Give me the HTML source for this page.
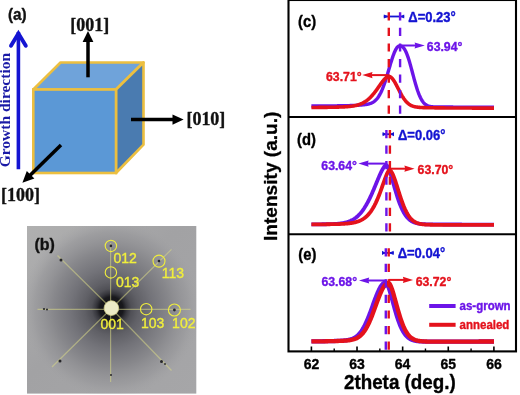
<!DOCTYPE html><html><head><meta charset="utf-8"><style>html,body{margin:0;padding:0;background:#fff;overflow:hidden}svg{display:block;filter:blur(0.3px)}</style></head><body><svg width="520" height="395" viewBox="0 0 520 395"><rect width="520" height="395" fill="#fff"/><text transform="translate(7.90,19.69) scale(1,1.07)" style="font-family:'Liberation Sans',Arial,sans-serif;font-weight:bold;font-size:15.3px" fill="#111" stroke="#111" stroke-width="0.35" stroke-linejoin="round">(a)</text><polygon points="33.3,89.5 60.5,62.5 143.5,62.5 116,89.5" fill="#6fa3da" stroke="#ecbf40" stroke-width="2.6" stroke-linejoin="round"/><polygon points="116,89.5 143.5,62.5 143.5,144.7 116,173" fill="#4a7bb0" stroke="#ecbf40" stroke-width="2.6" stroke-linejoin="round"/><rect x="33.3" y="89.5" width="82.7" height="83.5" fill="#5b98d6" stroke="#ecbf40" stroke-width="2.6"/><line x1="88" y1="77.3" x2="88" y2="40" stroke="#000" stroke-width="3.5"/><polygon points="88,30.9 82.6,42 93.4,42" fill="#000"/><line x1="131" y1="119.6" x2="174" y2="119.6" stroke="#000" stroke-width="3.5"/><polygon points="183.6,119.6 172.5,114.4 172.5,124.8" fill="#000"/><line x1="61" y1="144.9" x2="29.89" y2="175.44" stroke="#000" stroke-width="3.5"/><polygon points="22.4,182.8 26.82,170.89 34.39,178.60" fill="#000"/><text transform="translate(70.20,31.09) scale(1,1.07)" style="font-family:'Liberation Serif','Times New Roman',serif;font-weight:bold;font-size:18px" fill="#111" stroke="#111" stroke-width="0.35" stroke-linejoin="round">[001]</text><text transform="translate(186.40,125.49) scale(1,1.07)" style="font-family:'Liberation Serif','Times New Roman',serif;font-weight:bold;font-size:18px" fill="#111" stroke="#111" stroke-width="0.35" stroke-linejoin="round">[010]</text><text transform="translate(1.00,200.59) scale(1,1.07)" style="font-family:'Liberation Serif','Times New Roman',serif;font-weight:bold;font-size:18px" fill="#111" stroke="#111" stroke-width="0.35" stroke-linejoin="round">[100]</text><line x1="18.4" y1="169.2" x2="18.4" y2="32" stroke="#1414d2" stroke-width="3.6"/><polyline points="11,45.8 18.4,33.6 25.8,45.8" fill="none" stroke="#1414d2" stroke-width="3.9" stroke-linecap="round" stroke-linejoin="miter"/><g transform="translate(10.2,167.3) rotate(-90)"><text x="0" y="0" style="font-family:'Liberation Serif','Times New Roman',serif;font-weight:bold;font-size:15.5px" fill="#1a1aa6">Growth direction</text></g><defs><radialGradient id="halo" cx="111.4" cy="308.5" r="90" gradientUnits="userSpaceOnUse"><stop offset="0" stop-color="#0e0e12"/><stop offset="0.13" stop-color="#18181c"/><stop offset="0.17" stop-color="#36363c"/><stop offset="0.22" stop-color="#505056"/><stop offset="0.3" stop-color="#606066"/><stop offset="0.45" stop-color="#737379"/><stop offset="0.65" stop-color="#88888c"/><stop offset="0.85" stop-color="#98989b" stop-opacity="0.7"/><stop offset="1" stop-color="#a4a4a6" stop-opacity="0"/></radialGradient><linearGradient id="bgg" x1="0" y1="0" x2="1" y2="1"><stop offset="0" stop-color="#b0b0b0"/><stop offset="0.45" stop-color="#a2a2a4"/><stop offset="1" stop-color="#a6a6a8"/></linearGradient></defs><rect x="27" y="226" width="169.3" height="167.6" fill="url(#bgg)"/><rect x="27" y="226" width="169.3" height="167.6" fill="url(#halo)"/><line x1="37.5" y1="309.4" x2="190.6" y2="309.4" stroke="#d8d888" stroke-width="1.2" opacity="0.55"/><line x1="110.6" y1="243" x2="110.6" y2="382" stroke="#d8d888" stroke-width="1.2" opacity="0.55"/><line x1="111.4" y1="308.5" x2="57.5" y2="255.5" stroke="#d8d888" stroke-width="1.2" opacity="0.55"/><line x1="111.4" y1="308.5" x2="171.5" y2="249.4" stroke="#d8d888" stroke-width="1.2" opacity="0.55"/><line x1="111.4" y1="308.5" x2="52" y2="367" stroke="#d8d888" stroke-width="1.2" opacity="0.55"/><line x1="111.4" y1="308.5" x2="171.5" y2="370.5" stroke="#d8d888" stroke-width="1.2" opacity="0.55"/><circle cx="61" cy="260" r="1.5" fill="#26262a"/><circle cx="44" cy="309" r="1.1" fill="#26262a"/><circle cx="47" cy="309.5" r="1.0" fill="#26262a"/><circle cx="60" cy="361" r="1.5" fill="#26262a"/><circle cx="161.5" cy="361.5" r="1.5" fill="#26262a"/><circle cx="165" cy="364" r="0.9" fill="#26262a"/><circle cx="111" cy="375" r="1.0" fill="#26262a"/><circle cx="110.9" cy="245.9" r="1.3" fill="#26262a"/><circle cx="159" cy="261.1" r="1.3" fill="#26262a"/><circle cx="174.4" cy="310" r="1.4" fill="#26262a"/><circle cx="111.4" cy="308.1" r="7.3" fill="#ecebc6" stroke="#d8d690" stroke-width="0.8"/><circle cx="110.9" cy="245.9" r="5.7" fill="none" stroke="#f0ee3c" stroke-width="1.1"/><circle cx="110.9" cy="272.4" r="5.7" fill="none" stroke="#f0ee3c" stroke-width="1.1"/><circle cx="159" cy="261.1" r="6" fill="none" stroke="#f0ee3c" stroke-width="1.1"/><circle cx="146.2" cy="309.2" r="5.7" fill="none" stroke="#f0ee3c" stroke-width="1.1"/><circle cx="174.4" cy="310" r="6" fill="none" stroke="#f0ee3c" stroke-width="1.1"/><text transform="translate(113.40,262.89) scale(1,1.07)" style="font-family:'Liberation Sans',Arial,sans-serif;font-size:14px" fill="#f0ee3c" stroke="#f0ee3c" stroke-width="0.35">012</text><text transform="translate(116.00,287.09) scale(1,1.07)" style="font-family:'Liberation Sans',Arial,sans-serif;font-size:14px" fill="#f0ee3c" stroke="#f0ee3c" stroke-width="0.35">013</text><text transform="translate(161.80,278.49) scale(1,1.07)" style="font-family:'Liberation Sans',Arial,sans-serif;font-size:14px" fill="#f0ee3c" stroke="#f0ee3c" stroke-width="0.35">113</text><text transform="translate(141.00,328.49) scale(1,1.07)" style="font-family:'Liberation Sans',Arial,sans-serif;font-size:14px" fill="#f0ee3c" stroke="#f0ee3c" stroke-width="0.35">103</text><text transform="translate(172.10,328.49) scale(1,1.07)" style="font-family:'Liberation Sans',Arial,sans-serif;font-size:14px" fill="#f0ee3c" stroke="#f0ee3c" stroke-width="0.35">102</text><text transform="translate(100.50,328.69) scale(1,1.07)" style="font-family:'Liberation Sans',Arial,sans-serif;font-size:14px" fill="#f0ee3c" stroke="#f0ee3c" stroke-width="0.35">001</text><text transform="translate(34.40,249.73) scale(1,1.07)" style="font-family:'Liberation Sans',Arial,sans-serif;font-weight:bold;font-size:16px" fill="#111" stroke="#111" stroke-width="0.35" stroke-linejoin="round">(b)</text><rect x="288.5" y="0" width="227.5" height="351.4" fill="#fff" stroke="#000" stroke-width="2.1"/><line x1="288.5" y1="117" x2="516" y2="117" stroke="#000" stroke-width="2.1"/><line x1="288.5" y1="234.2" x2="516" y2="234.2" stroke="#000" stroke-width="2.1"/><line x1="311.40" y1="351" x2="311.40" y2="346.5" stroke="#000" stroke-width="1.6"/><line x1="334.21" y1="351" x2="334.21" y2="348.5" stroke="#000" stroke-width="1.4"/><text transform="translate(303.63,369.09) scale(1,1.07)" style="font-family:'Liberation Sans',Arial,sans-serif;font-weight:bold;font-size:14px" fill="#000" stroke="#000" stroke-width="0.35" stroke-linejoin="round">62</text><line x1="357.02" y1="351" x2="357.02" y2="346.5" stroke="#000" stroke-width="1.6"/><line x1="379.84" y1="351" x2="379.84" y2="348.5" stroke="#000" stroke-width="1.4"/><text transform="translate(349.25,369.09) scale(1,1.07)" style="font-family:'Liberation Sans',Arial,sans-serif;font-weight:bold;font-size:14px" fill="#000" stroke="#000" stroke-width="0.35" stroke-linejoin="round">63</text><line x1="402.65" y1="351" x2="402.65" y2="346.5" stroke="#000" stroke-width="1.6"/><line x1="425.46" y1="351" x2="425.46" y2="348.5" stroke="#000" stroke-width="1.4"/><text transform="translate(394.81,369.09) scale(1,1.07)" style="font-family:'Liberation Sans',Arial,sans-serif;font-weight:bold;font-size:14px" fill="#000" stroke="#000" stroke-width="0.35" stroke-linejoin="round">64</text><line x1="448.27" y1="351" x2="448.27" y2="346.5" stroke="#000" stroke-width="1.6"/><line x1="471.09" y1="351" x2="471.09" y2="348.5" stroke="#000" stroke-width="1.4"/><text transform="translate(440.50,369.09) scale(1,1.07)" style="font-family:'Liberation Sans',Arial,sans-serif;font-weight:bold;font-size:14px" fill="#000" stroke="#000" stroke-width="0.35" stroke-linejoin="round">65</text><line x1="493.90" y1="351" x2="493.90" y2="346.5" stroke="#000" stroke-width="1.6"/><text transform="translate(486.13,369.09) scale(1,1.07)" style="font-family:'Liberation Sans',Arial,sans-serif;font-weight:bold;font-size:14px" fill="#000" stroke="#000" stroke-width="0.35" stroke-linejoin="round">66</text><text transform="translate(344.00,389.28) scale(1,1.07)" style="font-family:'Liberation Sans',Arial,sans-serif;font-weight:bold;font-size:18.8px" fill="#000" stroke="#000" stroke-width="0.35" stroke-linejoin="round">2theta (deg.)</text><g transform="translate(276.9,241.0) rotate(-90)"><text x="0" y="0" style="font-family:'Liberation Sans',Arial,sans-serif;font-weight:bold;font-size:19.1px" fill="#000" stroke="#000" stroke-width="0.3">Intensity (a.u.)</text></g><text transform="translate(298.00,27.40) scale(1,1.07)" style="font-family:'Liberation Sans',Arial,sans-serif;font-weight:bold;font-size:14.8px" fill="#000" stroke="#000" stroke-width="0.35" stroke-linejoin="round">(c)</text><text transform="translate(297.00,144.60) scale(1,1.07)" style="font-family:'Liberation Sans',Arial,sans-serif;font-weight:bold;font-size:14.8px" fill="#000" stroke="#000" stroke-width="0.35" stroke-linejoin="round">(d)</text><text transform="translate(298.30,260.00) scale(1,1.07)" style="font-family:'Liberation Sans',Arial,sans-serif;font-weight:bold;font-size:14.8px" fill="#000" stroke="#000" stroke-width="0.35" stroke-linejoin="round">(e)</text><path d="M311.40,105.99 L311.86,105.98 L312.31,105.98 L312.77,105.98 L313.23,105.98 L313.68,105.98 L314.14,105.98 L314.60,105.98 L315.05,105.98 L315.51,105.98 L315.96,105.98 L316.42,105.97 L316.88,105.97 L317.33,105.97 L317.79,105.97 L318.25,105.97 L318.70,105.97 L319.16,105.97 L319.62,105.96 L320.07,105.96 L320.53,105.96 L320.99,105.96 L321.44,105.96 L321.90,105.95 L322.36,105.95 L322.81,105.95 L323.27,105.95 L323.73,105.95 L324.18,105.94 L324.64,105.94 L325.09,105.94 L325.55,105.94 L326.01,105.93 L326.46,105.93 L326.92,105.93 L327.38,105.92 L327.83,105.92 L328.29,105.92 L328.75,105.91 L329.20,105.91 L329.66,105.91 L330.12,105.90 L330.57,105.90 L331.03,105.89 L331.49,105.89 L331.94,105.89 L332.40,105.88 L332.86,105.88 L333.31,105.87 L333.77,105.87 L334.22,105.86 L334.68,105.86 L335.14,105.85 L335.59,105.85 L336.05,105.84 L336.51,105.84 L336.96,105.83 L337.42,105.82 L337.88,105.82 L338.33,105.81 L338.79,105.80 L339.25,105.80 L339.70,105.79 L340.16,105.78 L340.62,105.77 L341.07,105.77 L341.53,105.76 L341.99,105.75 L342.44,105.74 L342.90,105.73 L343.35,105.72 L343.81,105.72 L344.27,105.71 L344.72,105.70 L345.18,105.69 L345.64,105.68 L346.09,105.67 L346.55,105.65 L347.01,105.64 L347.46,105.63 L347.92,105.62 L348.38,105.61 L348.83,105.59 L349.29,105.58 L349.75,105.57 L350.20,105.55 L350.66,105.54 L351.12,105.52 L351.57,105.51 L352.03,105.49 L352.49,105.48 L352.94,105.46 L353.40,105.44 L353.85,105.43 L354.31,105.41 L354.77,105.39 L355.22,105.37 L355.68,105.35 L356.14,105.33 L356.59,105.31 L357.05,105.28 L357.51,105.26 L357.96,105.23 L358.42,105.21 L358.88,105.18 L359.33,105.15 L359.79,105.13 L360.25,105.09 L360.70,105.06 L361.16,105.03 L361.62,104.99 L362.07,104.96 L362.53,104.92 L362.98,104.87 L363.44,104.83 L363.90,104.78 L364.35,104.73 L364.81,104.67 L365.27,104.61 L365.72,104.55 L366.18,104.48 L366.64,104.40 L367.09,104.32 L367.55,104.23 L368.01,104.13 L368.46,104.03 L368.92,103.91 L369.38,103.78 L369.83,103.64 L370.29,103.49 L370.75,103.32 L371.20,103.14 L371.66,102.94 L372.11,102.72 L372.57,102.49 L373.03,102.22 L373.48,101.94 L373.94,101.63 L374.40,101.29 L374.85,100.93 L375.31,100.53 L375.77,100.10 L376.22,99.63 L376.68,99.13 L377.14,98.59 L377.59,98.01 L378.05,97.38 L378.51,96.72 L378.96,96.00 L379.42,95.24 L379.88,94.44 L380.33,93.58 L380.79,92.67 L381.24,91.72 L381.70,90.71 L382.16,89.66 L382.61,88.55 L383.07,87.40 L383.53,86.20 L383.98,84.95 L384.44,83.66 L384.90,82.33 L385.35,80.96 L385.81,79.55 L386.27,78.11 L386.72,76.63 L387.18,75.14 L387.64,73.62 L388.09,72.09 L388.55,70.54 L389.00,69.00 L389.46,67.45 L389.92,65.90 L390.37,64.37 L390.83,62.86 L391.29,61.38 L391.74,59.92 L392.20,58.50 L392.66,57.13 L393.11,55.81 L393.57,54.55 L394.03,53.36 L394.48,52.23 L394.94,51.19 L395.40,50.22 L395.85,49.35 L396.31,48.57 L396.77,47.88 L397.22,47.30 L397.68,46.82 L398.13,46.45 L398.59,46.18 L399.05,46.02 L399.50,45.95 L399.65,45.95 L399.96,45.95 L400.42,45.99 L400.87,46.06 L401.33,46.20 L401.79,46.39 L402.24,46.66 L402.70,47.00 L403.16,47.42 L403.61,47.92 L404.07,48.51 L404.53,49.18 L404.98,49.94 L405.44,50.79 L405.90,51.73 L406.35,52.75 L406.81,53.86 L407.26,55.05 L407.72,56.31 L408.18,57.65 L408.63,59.06 L409.09,60.53 L409.55,62.05 L410.00,63.62 L410.46,65.24 L410.92,66.89 L411.37,68.58 L411.83,70.28 L412.29,71.99 L412.74,73.71 L413.20,75.43 L413.66,77.14 L414.11,78.83 L414.57,80.49 L415.03,82.13 L415.48,83.73 L415.94,85.29 L416.39,86.80 L416.85,88.26 L417.31,89.67 L417.76,91.02 L418.22,92.30 L418.68,93.53 L419.13,94.69 L419.59,95.78 L420.05,96.81 L420.50,97.77 L420.96,98.67 L421.42,99.50 L421.87,100.28 L422.33,100.99 L422.79,101.64 L423.24,102.24 L423.70,102.78 L424.16,103.28 L424.61,103.72 L425.07,104.13 L425.52,104.49 L425.98,104.81 L426.44,105.10 L426.89,105.35 L427.35,105.58 L427.81,105.77 L428.26,105.95 L428.72,106.10 L429.18,106.23 L429.63,106.34 L430.09,106.44 L430.55,106.53 L431.00,106.60 L431.46,106.66 L431.92,106.72 L432.37,106.76 L432.83,106.80 L433.29,106.83 L433.74,106.86 L434.20,106.88 L434.65,106.90 L435.11,106.92 L435.57,106.93 L436.02,106.95 L436.48,106.96 L436.94,106.96 L437.39,106.97 L437.85,106.98 L438.31,106.98 L438.76,106.99 L439.22,106.99 L439.68,107.00 L440.13,107.00 L440.59,107.00 L441.05,107.01 L441.50,107.01 L441.96,107.01 L442.42,107.02 L442.87,107.02 L443.33,107.02 L443.78,107.02 L444.24,107.03 L444.70,107.03 L445.15,107.03 L445.61,107.03 L446.07,107.04 L446.52,107.04 L446.98,107.04 L447.44,107.04 L447.89,107.05 L448.35,107.05 L448.81,107.05 L449.26,107.05 L449.72,107.06 L450.18,107.06 L450.63,107.06 L451.09,107.06 L451.55,107.07 L452.00,107.07 L452.46,107.07 L452.91,107.07 L453.37,107.08 L453.83,107.08 L454.28,107.08 L454.74,107.08 L455.20,107.09 L455.65,107.09 L456.11,107.09 L456.57,107.09 L457.02,107.10 L457.48,107.10 L457.94,107.10 L458.39,107.10 L458.85,107.11 L459.31,107.11 L459.76,107.11 L460.22,107.11 L460.68,107.12 L461.13,107.12 L461.59,107.12 L462.04,107.12 L462.50,107.13 L462.96,107.13 L463.41,107.13 L463.87,107.13 L464.33,107.14 L464.78,107.14 L465.24,107.14 L465.70,107.14 L466.15,107.15 L466.61,107.15 L467.07,107.15 L467.52,107.15 L467.98,107.16 L468.44,107.16 L468.89,107.16 L469.35,107.16 L469.81,107.17 L470.26,107.17 L470.72,107.17 L471.17,107.17 L471.63,107.18 L472.09,107.18 L472.54,107.18 L473.00,107.19 L473.46,107.19 L473.91,107.19 L474.37,107.19 L474.83,107.19 L475.28,107.20 L475.74,107.20 L476.20,107.20 L476.65,107.20 L477.11,107.21 L477.57,107.21 L478.02,107.21 L478.48,107.22 L478.94,107.22 L479.39,107.22 L479.85,107.22 L480.31,107.22 L480.76,107.23 L481.22,107.23 L481.67,107.23 L482.13,107.23 L482.59,107.24 L483.04,107.24 L483.50,107.24 L483.96,107.24 L484.41,107.25 L484.87,107.25 L485.33,107.25 L485.78,107.25 L486.24,107.26 L486.70,107.26 L487.15,107.26 L487.61,107.27 L488.07,107.27 L488.52,107.27 L488.98,107.27 L489.44,107.27 L489.89,107.28 L490.35,107.28 L490.80,107.28 L491.26,107.28 L491.72,107.29 L492.17,107.29 L492.63,107.29 L493.09,107.30 L493.54,107.30 L494.00,107.30" fill="none" stroke="#6c14e8" stroke-width="3.4" stroke-linejoin="round"/><path d="M311.40,107.47 L311.86,107.47 L312.31,107.47 L312.77,107.47 L313.23,107.46 L313.68,107.46 L314.14,107.46 L314.60,107.45 L315.05,107.45 L315.51,107.45 L315.96,107.44 L316.42,107.44 L316.88,107.44 L317.33,107.43 L317.79,107.43 L318.25,107.42 L318.70,107.42 L319.16,107.42 L319.62,107.41 L320.07,107.41 L320.53,107.40 L320.99,107.40 L321.44,107.40 L321.90,107.39 L322.36,107.39 L322.81,107.38 L323.27,107.38 L323.73,107.37 L324.18,107.37 L324.64,107.36 L325.09,107.36 L325.55,107.35 L326.01,107.34 L326.46,107.34 L326.92,107.33 L327.38,107.33 L327.83,107.32 L328.29,107.31 L328.75,107.31 L329.20,107.30 L329.66,107.29 L330.12,107.28 L330.57,107.28 L331.03,107.27 L331.49,107.26 L331.94,107.25 L332.40,107.24 L332.86,107.24 L333.31,107.23 L333.77,107.22 L334.22,107.21 L334.68,107.20 L335.14,107.19 L335.59,107.18 L336.05,107.16 L336.51,107.15 L336.96,107.14 L337.42,107.13 L337.88,107.12 L338.33,107.10 L338.79,107.09 L339.25,107.07 L339.70,107.06 L340.16,107.04 L340.62,107.03 L341.07,107.01 L341.53,106.99 L341.99,106.97 L342.44,106.95 L342.90,106.93 L343.35,106.91 L343.81,106.88 L344.27,106.86 L344.72,106.83 L345.18,106.81 L345.64,106.78 L346.09,106.75 L346.55,106.72 L347.01,106.68 L347.46,106.65 L347.92,106.61 L348.38,106.57 L348.83,106.53 L349.29,106.48 L349.75,106.44 L350.20,106.39 L350.66,106.33 L351.12,106.28 L351.57,106.22 L352.03,106.16 L352.49,106.09 L352.94,106.02 L353.40,105.94 L353.85,105.86 L354.31,105.78 L354.77,105.69 L355.22,105.60 L355.68,105.50 L356.14,105.39 L356.59,105.28 L357.05,105.16 L357.51,105.04 L357.96,104.91 L358.42,104.77 L358.88,104.62 L359.33,104.47 L359.79,104.31 L360.25,104.13 L360.70,103.95 L361.16,103.76 L361.62,103.56 L362.07,103.35 L362.53,103.13 L362.98,102.90 L363.44,102.65 L363.90,102.40 L364.35,102.13 L364.81,101.85 L365.27,101.56 L365.72,101.26 L366.18,100.94 L366.64,100.61 L367.09,100.26 L367.55,99.90 L368.01,99.53 L368.46,99.14 L368.92,98.73 L369.38,98.32 L369.83,97.88 L370.29,97.44 L370.75,96.97 L371.20,96.50 L371.66,96.00 L372.11,95.50 L372.57,94.98 L373.03,94.44 L373.48,93.90 L373.94,93.33 L374.40,92.76 L374.85,92.17 L375.31,91.58 L375.77,90.97 L376.22,90.35 L376.68,89.72 L377.14,89.09 L377.59,88.45 L378.05,87.80 L378.51,87.15 L378.96,86.49 L379.42,85.84 L379.88,85.19 L380.33,84.54 L380.79,83.90 L381.24,83.26 L381.70,82.64 L382.16,82.03 L382.61,81.43 L383.07,80.85 L383.53,80.30 L383.98,79.77 L384.44,79.26 L384.90,78.79 L385.35,78.36 L385.81,77.96 L386.27,77.60 L386.72,77.29 L387.18,77.03 L387.64,76.81 L388.09,76.66 L388.55,76.56 L388.93,76.53 L389.00,76.53 L389.46,76.58 L389.92,76.71 L390.37,76.91 L390.83,77.19 L391.29,77.54 L391.74,77.96 L392.20,78.44 L392.66,78.98 L393.11,79.58 L393.57,80.23 L394.03,80.93 L394.48,81.67 L394.94,82.45 L395.40,83.25 L395.85,84.09 L396.31,84.95 L396.77,85.82 L397.22,86.71 L397.68,87.60 L398.13,88.50 L398.59,89.39 L399.05,90.28 L399.50,91.17 L399.96,92.04 L400.42,92.90 L400.87,93.73 L401.33,94.55 L401.79,95.35 L402.24,96.12 L402.70,96.86 L403.16,97.58 L403.61,98.27 L404.07,98.93 L404.53,99.56 L404.98,100.15 L405.44,100.72 L405.90,101.26 L406.35,101.76 L406.81,102.24 L407.26,102.69 L407.72,103.10 L408.18,103.49 L408.63,103.86 L409.09,104.20 L409.55,104.51 L410.00,104.80 L410.46,105.06 L410.92,105.31 L411.37,105.53 L411.83,105.74 L412.29,105.93 L412.74,106.10 L413.20,106.26 L413.66,106.40 L414.11,106.53 L414.57,106.65 L415.03,106.75 L415.48,106.85 L415.94,106.94 L416.39,107.02 L416.85,107.09 L417.31,107.15 L417.76,107.21 L418.22,107.26 L418.68,107.31 L419.13,107.35 L419.59,107.39 L420.05,107.42 L420.50,107.46 L420.96,107.48 L421.42,107.51 L421.87,107.53 L422.33,107.56 L422.79,107.58 L423.24,107.59 L423.70,107.61 L424.16,107.63 L424.61,107.64 L425.07,107.65 L425.52,107.67 L425.98,107.68 L426.44,107.69 L426.89,107.70 L427.35,107.71 L427.81,107.72 L428.26,107.73 L428.72,107.74 L429.18,107.75 L429.63,107.75 L430.09,107.76 L430.55,107.77 L431.00,107.78 L431.46,107.78 L431.92,107.79 L432.37,107.80 L432.83,107.80 L433.29,107.81 L433.74,107.82 L434.20,107.82 L434.65,107.83 L435.11,107.83 L435.57,107.84 L436.02,107.84 L436.48,107.85 L436.94,107.85 L437.39,107.86 L437.85,107.86 L438.31,107.87 L438.76,107.87 L439.22,107.88 L439.68,107.88 L440.13,107.89 L440.59,107.89 L441.05,107.89 L441.50,107.90 L441.96,107.90 L442.42,107.91 L442.87,107.91 L443.33,107.91 L443.78,107.92 L444.24,107.92 L444.70,107.93 L445.15,107.93 L445.61,107.93 L446.07,107.94 L446.52,107.94 L446.98,107.94 L447.44,107.95 L447.89,107.95 L448.35,107.95 L448.81,107.96 L449.26,107.96 L449.72,107.96 L450.18,107.97 L450.63,107.97 L451.09,107.97 L451.55,107.97 L452.00,107.98 L452.46,107.98 L452.91,107.98 L453.37,107.99 L453.83,107.99 L454.28,107.99 L454.74,107.99 L455.20,108.00 L455.65,108.00 L456.11,108.00 L456.57,108.00 L457.02,108.01 L457.48,108.01 L457.94,108.01 L458.39,108.01 L458.85,108.02 L459.31,108.02 L459.76,108.02 L460.22,108.02 L460.68,108.02 L461.13,108.03 L461.59,108.03 L462.04,108.03 L462.50,108.03 L462.96,108.04 L463.41,108.04 L463.87,108.04 L464.33,108.04 L464.78,108.04 L465.24,108.05 L465.70,108.05 L466.15,108.05 L466.61,108.05 L467.07,108.05 L467.52,108.06 L467.98,108.06 L468.44,108.06 L468.89,108.06 L469.35,108.06 L469.81,108.07 L470.26,108.07 L470.72,108.07 L471.17,108.07 L471.63,108.07 L472.09,108.08 L472.54,108.08 L473.00,108.08 L473.46,108.08 L473.91,108.08 L474.37,108.08 L474.83,108.09 L475.28,108.09 L475.74,108.09 L476.20,108.09 L476.65,108.09 L477.11,108.09 L477.57,108.10 L478.02,108.10 L478.48,108.10 L478.94,108.10 L479.39,108.10 L479.85,108.10 L480.31,108.11 L480.76,108.11 L481.22,108.11 L481.67,108.11 L482.13,108.11 L482.59,108.11 L483.04,108.12 L483.50,108.12 L483.96,108.12 L484.41,108.12 L484.87,108.12 L485.33,108.12 L485.78,108.13 L486.24,108.13 L486.70,108.13 L487.15,108.13 L487.61,108.13 L488.07,108.13 L488.52,108.13 L488.98,108.14 L489.44,108.14 L489.89,108.14 L490.35,108.14 L490.80,108.14 L491.26,108.14 L491.72,108.14 L492.17,108.15 L492.63,108.15 L493.09,108.15 L493.54,108.15 L494.00,108.15" fill="none" stroke="#e4121c" stroke-width="3.6" stroke-linejoin="round"/><line x1="383.8" y1="16.5" x2="404.2" y2="16.5" stroke="#1414d2" stroke-width="1.8"/><polygon points="388.8,16.5 383.8,14.4 383.8,18.6" fill="#1414d2"/><polygon points="400.1,16.5 404.2,14.4 404.2,18.6" fill="#1414d2"/><line x1="388.8" y1="12.3" x2="388.8" y2="116" stroke="#e4121c" stroke-width="2.4" stroke-dasharray="8.2 7.35"/><line x1="400.1" y1="12.3" x2="400.1" y2="116" stroke="#6c14e8" stroke-width="2.4" stroke-dasharray="8.2 7.35"/><text transform="translate(408.30,22.34) scale(1,1.07)" style="font-family:'Liberation Sans',Arial,sans-serif;font-weight:bold;font-size:13px" fill="#1414d2" stroke="#1414d2" stroke-width="0.35" stroke-linejoin="round">Δ=0.23°</text><line x1="400.3" y1="45.5" x2="416.8" y2="45.5" stroke="#6c14e8" stroke-width="2"/><polygon points="424.8,45.5 414.6,42.4 415.40000000000003,45.5 414.6,48.6" fill="#6c14e8"/><text transform="translate(426.80,50.81) scale(1,1.07)" style="font-family:'Liberation Sans',Arial,sans-serif;font-weight:bold;font-size:12.3px" fill="#6c14e8" stroke="#6c14e8" stroke-width="0.35" stroke-linejoin="round">63.94°</text><line x1="388" y1="75.1" x2="370.3" y2="75.1" stroke="#e4121c" stroke-width="2"/><polygon points="362.3,75.1 372.5,72.0 371.7,75.1 372.5,78.19999999999999" fill="#e4121c"/><text transform="translate(326.00,80.51) scale(1,1.07)" style="font-family:'Liberation Sans',Arial,sans-serif;font-weight:bold;font-size:12.3px" fill="#e4121c" stroke="#e4121c" stroke-width="0.35" stroke-linejoin="round">63.71°</text><path d="M311.40,224.29 L311.86,224.29 L312.31,224.29 L312.77,224.29 L313.23,224.29 L313.68,224.29 L314.14,224.29 L314.60,224.29 L315.05,224.29 L315.51,224.29 L315.96,224.29 L316.42,224.29 L316.88,224.29 L317.33,224.29 L317.79,224.29 L318.25,224.29 L318.70,224.29 L319.16,224.29 L319.62,224.28 L320.07,224.28 L320.53,224.28 L320.99,224.28 L321.44,224.28 L321.90,224.27 L322.36,224.27 L322.81,224.27 L323.27,224.26 L323.73,224.26 L324.18,224.26 L324.64,224.25 L325.09,224.25 L325.55,224.24 L326.01,224.23 L326.46,224.23 L326.92,224.22 L327.38,224.21 L327.83,224.20 L328.29,224.20 L328.75,224.19 L329.20,224.17 L329.66,224.16 L330.12,224.15 L330.57,224.14 L331.03,224.12 L331.49,224.11 L331.94,224.09 L332.40,224.07 L332.86,224.05 L333.31,224.03 L333.77,224.01 L334.22,223.99 L334.68,223.96 L335.14,223.94 L335.59,223.91 L336.05,223.88 L336.51,223.84 L336.96,223.81 L337.42,223.77 L337.88,223.73 L338.33,223.69 L338.79,223.64 L339.25,223.59 L339.70,223.54 L340.16,223.49 L340.62,223.43 L341.07,223.37 L341.53,223.30 L341.99,223.23 L342.44,223.16 L342.90,223.08 L343.35,222.99 L343.81,222.90 L344.27,222.81 L344.72,222.71 L345.18,222.60 L345.64,222.49 L346.09,222.37 L346.55,222.25 L347.01,222.12 L347.46,221.98 L347.92,221.83 L348.38,221.67 L348.83,221.51 L349.29,221.34 L349.75,221.16 L350.20,220.97 L350.66,220.77 L351.12,220.55 L351.57,220.33 L352.03,220.10 L352.49,219.86 L352.94,219.60 L353.40,219.33 L353.85,219.05 L354.31,218.76 L354.77,218.45 L355.22,218.12 L355.68,217.79 L356.14,217.44 L356.59,217.07 L357.05,216.68 L357.51,216.28 L357.96,215.87 L358.42,215.43 L358.88,214.98 L359.33,214.51 L359.79,214.02 L360.25,213.52 L360.70,212.99 L361.16,212.45 L361.62,211.88 L362.07,211.30 L362.53,210.69 L362.98,210.06 L363.44,209.41 L363.90,208.74 L364.35,208.05 L364.81,207.34 L365.27,206.61 L365.72,205.85 L366.18,205.08 L366.64,204.28 L367.09,203.46 L367.55,202.62 L368.01,201.76 L368.46,200.88 L368.92,199.97 L369.38,199.05 L369.83,198.11 L370.29,197.15 L370.75,196.17 L371.20,195.18 L371.66,194.17 L372.11,193.14 L372.57,192.10 L373.03,191.04 L373.48,189.98 L373.94,188.90 L374.40,187.82 L374.85,186.72 L375.31,185.62 L375.77,184.52 L376.22,183.42 L376.68,182.31 L377.14,181.21 L377.59,180.11 L378.05,179.02 L378.51,177.94 L378.96,176.87 L379.42,175.82 L379.88,174.79 L380.33,173.78 L380.79,172.80 L381.24,171.85 L381.70,170.93 L382.16,170.05 L382.61,169.22 L383.07,168.43 L383.53,167.70 L383.98,167.03 L384.44,166.43 L384.90,165.91 L385.35,165.49 L385.81,165.18 L386.23,165.04 L386.27,165.04 L386.72,165.32 L387.18,165.86 L387.64,166.59 L388.09,167.47 L388.55,168.48 L389.00,169.61 L389.46,170.83 L389.92,172.14 L390.37,173.51 L390.83,174.95 L391.29,176.43 L391.74,177.95 L392.20,179.50 L392.66,181.07 L393.11,182.65 L393.57,184.24 L394.03,185.83 L394.48,187.41 L394.94,188.97 L395.40,190.52 L395.85,192.04 L396.31,193.54 L396.77,195.01 L397.22,196.45 L397.68,197.85 L398.13,199.21 L398.59,200.54 L399.05,201.82 L399.50,203.06 L399.96,204.25 L400.42,205.40 L400.87,206.51 L401.33,207.57 L401.79,208.59 L402.24,209.56 L402.70,210.49 L403.16,211.37 L403.61,212.21 L404.07,213.01 L404.53,213.77 L404.98,214.49 L405.44,215.17 L405.90,215.81 L406.35,216.42 L406.81,216.99 L407.26,217.52 L407.72,218.03 L408.18,218.50 L408.63,218.94 L409.09,219.36 L409.55,219.75 L410.00,220.11 L410.46,220.45 L410.92,220.76 L411.37,221.05 L411.83,221.33 L412.29,221.58 L412.74,221.81 L413.20,222.03 L413.66,222.23 L414.11,222.42 L414.57,222.59 L415.03,222.75 L415.48,222.89 L415.94,223.03 L416.39,223.15 L416.85,223.26 L417.31,223.37 L417.76,223.46 L418.22,223.55 L418.68,223.63 L419.13,223.71 L419.59,223.77 L420.05,223.84 L420.50,223.89 L420.96,223.94 L421.42,223.99 L421.87,224.03 L422.33,224.07 L422.79,224.11 L423.24,224.14 L423.70,224.17 L424.16,224.20 L424.61,224.22 L425.07,224.24 L425.52,224.26 L425.98,224.28 L426.44,224.30 L426.89,224.31 L427.35,224.33 L427.81,224.34 L428.26,224.35 L428.72,224.36 L429.18,224.37 L429.63,224.38 L430.09,224.39 L430.55,224.39 L431.00,224.40 L431.46,224.41 L431.92,224.41 L432.37,224.42 L432.83,224.42 L433.29,224.43 L433.74,224.43 L434.20,224.43 L434.65,224.44 L435.11,224.44 L435.57,224.44 L436.02,224.45 L436.48,224.45 L436.94,224.45 L437.39,224.45 L437.85,224.46 L438.31,224.46 L438.76,224.46 L439.22,224.46 L439.68,224.46 L440.13,224.47 L440.59,224.47 L441.05,224.47 L441.50,224.47 L441.96,224.47 L442.42,224.47 L442.87,224.48 L443.33,224.48 L443.78,224.48 L444.24,224.48 L444.70,224.48 L445.15,224.48 L445.61,224.48 L446.07,224.49 L446.52,224.49 L446.98,224.49 L447.44,224.49 L447.89,224.49 L448.35,224.49 L448.81,224.49 L449.26,224.49 L449.72,224.50 L450.18,224.50 L450.63,224.50 L451.09,224.50 L451.55,224.50 L452.00,224.50 L452.46,224.50 L452.91,224.50 L453.37,224.51 L453.83,224.51 L454.28,224.51 L454.74,224.51 L455.20,224.51 L455.65,224.51 L456.11,224.51 L456.57,224.51 L457.02,224.51 L457.48,224.52 L457.94,224.52 L458.39,224.52 L458.85,224.52 L459.31,224.52 L459.76,224.52 L460.22,224.52 L460.68,224.52 L461.13,224.52 L461.59,224.52 L462.04,224.53 L462.50,224.53 L462.96,224.53 L463.41,224.53 L463.87,224.53 L464.33,224.53 L464.78,224.53 L465.24,224.53 L465.70,224.53 L466.15,224.53 L466.61,224.54 L467.07,224.54 L467.52,224.54 L467.98,224.54 L468.44,224.54 L468.89,224.54 L469.35,224.54 L469.81,224.54 L470.26,224.54 L470.72,224.54 L471.17,224.55 L471.63,224.55 L472.09,224.55 L472.54,224.55 L473.00,224.55 L473.46,224.55 L473.91,224.55 L474.37,224.55 L474.83,224.55 L475.28,224.55 L475.74,224.55 L476.20,224.56 L476.65,224.56 L477.11,224.56 L477.57,224.56 L478.02,224.56 L478.48,224.56 L478.94,224.56 L479.39,224.56 L479.85,224.56 L480.31,224.56 L480.76,224.56 L481.22,224.56 L481.67,224.57 L482.13,224.57 L482.59,224.57 L483.04,224.57 L483.50,224.57 L483.96,224.57 L484.41,224.57 L484.87,224.57 L485.33,224.57 L485.78,224.57 L486.24,224.57 L486.70,224.58 L487.15,224.58 L487.61,224.58 L488.07,224.58 L488.52,224.58 L488.98,224.58 L489.44,224.58 L489.89,224.58 L490.35,224.58 L490.80,224.58 L491.26,224.58 L491.72,224.58 L492.17,224.59 L492.63,224.59 L493.09,224.59 L493.54,224.59 L494.00,224.59" fill="none" stroke="#6c14e8" stroke-width="3.8" stroke-linejoin="round"/><path d="M311.40,224.37 L311.86,224.37 L312.31,224.37 L312.77,224.37 L313.23,224.36 L313.68,224.36 L314.14,224.36 L314.60,224.36 L315.05,224.35 L315.51,224.35 L315.96,224.35 L316.42,224.35 L316.88,224.35 L317.33,224.34 L317.79,224.34 L318.25,224.34 L318.70,224.33 L319.16,224.33 L319.62,224.33 L320.07,224.33 L320.53,224.32 L320.99,224.32 L321.44,224.32 L321.90,224.31 L322.36,224.31 L322.81,224.30 L323.27,224.30 L323.73,224.30 L324.18,224.29 L324.64,224.29 L325.09,224.28 L325.55,224.28 L326.01,224.28 L326.46,224.27 L326.92,224.27 L327.38,224.26 L327.83,224.26 L328.29,224.25 L328.75,224.24 L329.20,224.24 L329.66,224.23 L330.12,224.23 L330.57,224.22 L331.03,224.21 L331.49,224.21 L331.94,224.20 L332.40,224.19 L332.86,224.18 L333.31,224.17 L333.77,224.16 L334.22,224.16 L334.68,224.15 L335.14,224.14 L335.59,224.12 L336.05,224.11 L336.51,224.10 L336.96,224.09 L337.42,224.08 L337.88,224.06 L338.33,224.05 L338.79,224.03 L339.25,224.02 L339.70,224.00 L340.16,223.99 L340.62,223.97 L341.07,223.95 L341.53,223.93 L341.99,223.91 L342.44,223.88 L342.90,223.86 L343.35,223.83 L343.81,223.81 L344.27,223.78 L344.72,223.75 L345.18,223.72 L345.64,223.68 L346.09,223.65 L346.55,223.61 L347.01,223.57 L347.46,223.53 L347.92,223.49 L348.38,223.44 L348.83,223.39 L349.29,223.34 L349.75,223.28 L350.20,223.22 L350.66,223.16 L351.12,223.09 L351.57,223.02 L352.03,222.95 L352.49,222.87 L352.94,222.79 L353.40,222.70 L353.85,222.60 L354.31,222.50 L354.77,222.40 L355.22,222.29 L355.68,222.17 L356.14,222.05 L356.59,221.91 L357.05,221.78 L357.51,221.63 L357.96,221.47 L358.42,221.31 L358.88,221.14 L359.33,220.95 L359.79,220.76 L360.25,220.56 L360.70,220.34 L361.16,220.11 L361.62,219.87 L362.07,219.62 L362.53,219.36 L362.98,219.08 L363.44,218.78 L363.90,218.47 L364.35,218.15 L364.81,217.81 L365.27,217.45 L365.72,217.07 L366.18,216.68 L366.64,216.26 L367.09,215.83 L367.55,215.37 L368.01,214.90 L368.46,214.40 L368.92,213.88 L369.38,213.33 L369.83,212.76 L370.29,212.17 L370.75,211.55 L371.20,210.90 L371.66,210.23 L372.11,209.53 L372.57,208.80 L373.03,208.04 L373.48,207.25 L373.94,206.44 L374.40,205.59 L374.85,204.71 L375.31,203.80 L375.77,202.87 L376.22,201.89 L376.68,200.89 L377.14,199.86 L377.59,198.80 L378.05,197.71 L378.51,196.59 L378.96,195.44 L379.42,194.26 L379.88,193.06 L380.33,191.84 L380.79,190.59 L381.24,189.33 L381.70,188.05 L382.16,186.76 L382.61,185.46 L383.07,184.16 L383.53,182.85 L383.98,181.56 L384.44,180.28 L384.90,179.03 L385.35,177.80 L385.81,176.61 L386.27,175.48 L386.72,174.40 L387.18,173.39 L387.64,172.47 L388.09,171.64 L388.55,170.94 L389.00,170.39 L389.46,170.06 L389.52,170.05 L389.92,170.16 L390.37,170.47 L390.83,170.95 L391.29,171.56 L391.74,172.29 L392.20,173.13 L392.66,174.07 L393.11,175.10 L393.57,176.20 L394.03,177.38 L394.48,178.62 L394.94,179.91 L395.40,181.24 L395.85,182.62 L396.31,184.02 L396.77,185.44 L397.22,186.88 L397.68,188.33 L398.13,189.78 L398.59,191.23 L399.05,192.67 L399.50,194.10 L399.96,195.51 L400.42,196.90 L400.87,198.26 L401.33,199.60 L401.79,200.91 L402.24,202.18 L402.70,203.42 L403.16,204.62 L403.61,205.78 L404.07,206.89 L404.53,207.97 L404.98,209.01 L405.44,210.00 L405.90,210.95 L406.35,211.85 L406.81,212.72 L407.26,213.54 L407.72,214.32 L408.18,215.06 L408.63,215.76 L409.09,216.42 L409.55,217.04 L410.00,217.63 L410.46,218.18 L410.92,218.69 L411.37,219.17 L411.83,219.63 L412.29,220.05 L412.74,220.44 L413.20,220.80 L413.66,221.14 L414.11,221.46 L414.57,221.75 L415.03,222.02 L415.48,222.27 L415.94,222.49 L416.39,222.71 L416.85,222.90 L417.31,223.08 L417.76,223.24 L418.22,223.39 L418.68,223.53 L419.13,223.65 L419.59,223.76 L420.05,223.87 L420.50,223.96 L420.96,224.05 L421.42,224.12 L421.87,224.19 L422.33,224.26 L422.79,224.31 L423.24,224.37 L423.70,224.41 L424.16,224.45 L424.61,224.49 L425.07,224.53 L425.52,224.56 L425.98,224.58 L426.44,224.61 L426.89,224.63 L427.35,224.65 L427.81,224.67 L428.26,224.68 L428.72,224.70 L429.18,224.71 L429.63,224.72 L430.09,224.73 L430.55,224.74 L431.00,224.75 L431.46,224.75 L431.92,224.76 L432.37,224.77 L432.83,224.77 L433.29,224.78 L433.74,224.78 L434.20,224.78 L434.65,224.79 L435.11,224.79 L435.57,224.79 L436.02,224.79 L436.48,224.80 L436.94,224.80 L437.39,224.80 L437.85,224.80 L438.31,224.80 L438.76,224.80 L439.22,224.81 L439.68,224.81 L440.13,224.81 L440.59,224.81 L441.05,224.81 L441.50,224.81 L441.96,224.81 L442.42,224.81 L442.87,224.81 L443.33,224.82 L443.78,224.82 L444.24,224.82 L444.70,224.82 L445.15,224.82 L445.61,224.82 L446.07,224.82 L446.52,224.82 L446.98,224.82 L447.44,224.82 L447.89,224.82 L448.35,224.82 L448.81,224.83 L449.26,224.83 L449.72,224.83 L450.18,224.83 L450.63,224.83 L451.09,224.83 L451.55,224.83 L452.00,224.83 L452.46,224.83 L452.91,224.83 L453.37,224.83 L453.83,224.83 L454.28,224.83 L454.74,224.84 L455.20,224.84 L455.65,224.84 L456.11,224.84 L456.57,224.84 L457.02,224.84 L457.48,224.84 L457.94,224.84 L458.39,224.84 L458.85,224.84 L459.31,224.84 L459.76,224.84 L460.22,224.84 L460.68,224.85 L461.13,224.85 L461.59,224.85 L462.04,224.85 L462.50,224.85 L462.96,224.85 L463.41,224.85 L463.87,224.85 L464.33,224.85 L464.78,224.85 L465.24,224.85 L465.70,224.85 L466.15,224.85 L466.61,224.85 L467.07,224.86 L467.52,224.86 L467.98,224.86 L468.44,224.86 L468.89,224.86 L469.35,224.86 L469.81,224.86 L470.26,224.86 L470.72,224.86 L471.17,224.86 L471.63,224.86 L472.09,224.86 L472.54,224.86 L473.00,224.87 L473.46,224.87 L473.91,224.87 L474.37,224.87 L474.83,224.87 L475.28,224.87 L475.74,224.87 L476.20,224.87 L476.65,224.87 L477.11,224.87 L477.57,224.87 L478.02,224.87 L478.48,224.87 L478.94,224.88 L479.39,224.88 L479.85,224.88 L480.31,224.88 L480.76,224.88 L481.22,224.88 L481.67,224.88 L482.13,224.88 L482.59,224.88 L483.04,224.88 L483.50,224.88 L483.96,224.88 L484.41,224.88 L484.87,224.88 L485.33,224.89 L485.78,224.89 L486.24,224.89 L486.70,224.89 L487.15,224.89 L487.61,224.89 L488.07,224.89 L488.52,224.89 L488.98,224.89 L489.44,224.89 L489.89,224.89 L490.35,224.89 L490.80,224.89 L491.26,224.90 L491.72,224.90 L492.17,224.90 L492.63,224.90 L493.09,224.90 L493.54,224.90 L494.00,224.90" fill="none" stroke="#e4121c" stroke-width="3.8" stroke-linejoin="round"/><line x1="382.6" y1="134.2" x2="394" y2="134.2" stroke="#1414d2" stroke-width="1.8"/><polygon points="386.4,134.2 382.6,132.1 382.6,136.29999999999998" fill="#1414d2"/><polygon points="389.9,134.2 394,132.1 394,136.29999999999998" fill="#1414d2"/><line x1="386.4" y1="130" x2="386.4" y2="233" stroke="#6c14e8" stroke-width="2.4" stroke-dasharray="8.2 7.35"/><line x1="389.9" y1="130" x2="389.9" y2="233" stroke="#e4121c" stroke-width="2.4" stroke-dasharray="8.2 7.35"/><text transform="translate(398.00,139.54) scale(1,1.07)" style="font-family:'Liberation Sans',Arial,sans-serif;font-weight:bold;font-size:13px" fill="#1414d2" stroke="#1414d2" stroke-width="0.35" stroke-linejoin="round">Δ=0.06°</text><line x1="386.3" y1="163.6" x2="366.4" y2="163.6" stroke="#6c14e8" stroke-width="2"/><polygon points="358.4,163.6 368.59999999999997,160.5 367.79999999999995,163.6 368.59999999999997,166.7" fill="#6c14e8"/><text transform="translate(321.30,169.51) scale(1,1.07)" style="font-family:'Liberation Sans',Arial,sans-serif;font-weight:bold;font-size:12.3px" fill="#6c14e8" stroke="#6c14e8" stroke-width="0.35" stroke-linejoin="round">63.64°</text><line x1="390.2" y1="168.7" x2="406.6" y2="168.7" stroke="#e4121c" stroke-width="2"/><polygon points="414.6,168.7 404.40000000000003,165.6 405.20000000000005,168.7 404.40000000000003,171.79999999999998" fill="#e4121c"/><text transform="translate(417.60,173.71) scale(1,1.07)" style="font-family:'Liberation Sans',Arial,sans-serif;font-weight:bold;font-size:12.3px" fill="#e4121c" stroke="#e4121c" stroke-width="0.35" stroke-linejoin="round">63.70°</text><path d="M311.40,341.43 L311.86,341.42 L312.31,341.42 L312.77,341.41 L313.23,341.41 L313.68,341.40 L314.14,341.39 L314.60,341.39 L315.05,341.38 L315.51,341.38 L315.96,341.37 L316.42,341.37 L316.88,341.36 L317.33,341.35 L317.79,341.35 L318.25,341.34 L318.70,341.33 L319.16,341.33 L319.62,341.32 L320.07,341.31 L320.53,341.31 L320.99,341.30 L321.44,341.29 L321.90,341.28 L322.36,341.28 L322.81,341.27 L323.27,341.26 L323.73,341.25 L324.18,341.25 L324.64,341.24 L325.09,341.23 L325.55,341.22 L326.01,341.21 L326.46,341.20 L326.92,341.19 L327.38,341.18 L327.83,341.17 L328.29,341.16 L328.75,341.15 L329.20,341.14 L329.66,341.13 L330.12,341.12 L330.57,341.11 L331.03,341.10 L331.49,341.09 L331.94,341.08 L332.40,341.07 L332.86,341.05 L333.31,341.04 L333.77,341.03 L334.22,341.01 L334.68,341.00 L335.14,340.99 L335.59,340.97 L336.05,340.95 L336.51,340.94 L336.96,340.92 L337.42,340.90 L337.88,340.89 L338.33,340.87 L338.79,340.85 L339.25,340.83 L339.70,340.80 L340.16,340.78 L340.62,340.75 L341.07,340.73 L341.53,340.70 L341.99,340.67 L342.44,340.64 L342.90,340.60 L343.35,340.57 L343.81,340.53 L344.27,340.48 L344.72,340.44 L345.18,340.39 L345.64,340.34 L346.09,340.28 L346.55,340.22 L347.01,340.15 L347.46,340.08 L347.92,340.00 L348.38,339.91 L348.83,339.82 L349.29,339.72 L349.75,339.61 L350.20,339.49 L350.66,339.36 L351.12,339.22 L351.57,339.07 L352.03,338.91 L352.49,338.73 L352.94,338.54 L353.40,338.33 L353.85,338.11 L354.31,337.87 L354.77,337.62 L355.22,337.34 L355.68,337.04 L356.14,336.73 L356.59,336.39 L357.05,336.02 L357.51,335.64 L357.96,335.22 L358.42,334.78 L358.88,334.31 L359.33,333.82 L359.79,333.29 L360.25,332.74 L360.70,332.15 L361.16,331.53 L361.62,330.88 L362.07,330.20 L362.53,329.48 L362.98,328.73 L363.44,327.94 L363.90,327.12 L364.35,326.27 L364.81,325.38 L365.27,324.46 L365.72,323.51 L366.18,322.52 L366.64,321.50 L367.09,320.45 L367.55,319.38 L368.01,318.27 L368.46,317.14 L368.92,315.98 L369.38,314.81 L369.83,313.61 L370.29,312.39 L370.75,311.16 L371.20,309.91 L371.66,308.65 L372.11,307.39 L372.57,306.12 L373.03,304.85 L373.48,303.59 L373.94,302.32 L374.40,301.07 L374.85,299.83 L375.31,298.61 L375.77,297.40 L376.22,296.22 L376.68,295.07 L377.14,293.94 L377.59,292.85 L378.05,291.80 L378.51,290.79 L378.96,289.83 L379.42,288.91 L379.88,288.05 L380.33,287.24 L380.79,286.49 L381.24,285.79 L381.70,285.16 L382.16,284.60 L382.61,284.10 L383.07,283.67 L383.53,283.31 L383.98,283.01 L384.44,282.79 L384.90,282.63 L385.35,282.54 L385.81,282.51 L385.82,282.51 L386.27,282.75 L386.72,283.28 L387.18,284.02 L387.64,284.93 L388.09,285.98 L388.55,287.16 L389.00,288.45 L389.46,289.83 L389.92,291.29 L390.37,292.81 L390.83,294.39 L391.29,296.01 L391.74,297.65 L392.20,299.32 L392.66,301.01 L393.11,302.69 L393.57,304.37 L394.03,306.05 L394.48,307.70 L394.94,309.33 L395.40,310.94 L395.85,312.51 L396.31,314.04 L396.77,315.54 L397.22,316.99 L397.68,318.40 L398.13,319.76 L398.59,321.07 L399.05,322.33 L399.50,323.54 L399.96,324.70 L400.42,325.80 L400.87,326.86 L401.33,327.86 L401.79,328.81 L402.24,329.72 L402.70,330.57 L403.16,331.38 L403.61,332.14 L404.07,332.86 L404.53,333.53 L404.98,334.16 L405.44,334.75 L405.90,335.30 L406.35,335.81 L406.81,336.29 L407.26,336.74 L407.72,337.15 L408.18,337.54 L408.63,337.89 L409.09,338.22 L409.55,338.53 L410.00,338.80 L410.46,339.06 L410.92,339.30 L411.37,339.52 L411.83,339.72 L412.29,339.90 L412.74,340.06 L413.20,340.22 L413.66,340.36 L414.11,340.48 L414.57,340.60 L415.03,340.70 L415.48,340.79 L415.94,340.88 L416.39,340.96 L416.85,341.03 L417.31,341.09 L417.76,341.15 L418.22,341.20 L418.68,341.24 L419.13,341.29 L419.59,341.32 L420.05,341.35 L420.50,341.38 L420.96,341.41 L421.42,341.43 L421.87,341.45 L422.33,341.47 L422.79,341.49 L423.24,341.50 L423.70,341.52 L424.16,341.53 L424.61,341.54 L425.07,341.55 L425.52,341.55 L425.98,341.56 L426.44,341.57 L426.89,341.57 L427.35,341.57 L427.81,341.58 L428.26,341.58 L428.72,341.58 L429.18,341.59 L429.63,341.59 L430.09,341.59 L430.55,341.59 L431.00,341.59 L431.46,341.59 L431.92,341.59 L432.37,341.59 L432.83,341.59 L433.29,341.59 L433.74,341.59 L434.20,341.59 L434.65,341.59 L435.11,341.59 L435.57,341.59 L436.02,341.59 L436.48,341.59 L436.94,341.59 L437.39,341.59 L437.85,341.59 L438.31,341.59 L438.76,341.59 L439.22,341.59 L439.68,341.59 L440.13,341.59 L440.59,341.59 L441.05,341.59 L441.50,341.59 L441.96,341.59 L442.42,341.58 L442.87,341.58 L443.33,341.58 L443.78,341.58 L444.24,341.58 L444.70,341.58 L445.15,341.58 L445.61,341.58 L446.07,341.58 L446.52,341.58 L446.98,341.58 L447.44,341.58 L447.89,341.58 L448.35,341.57 L448.81,341.57 L449.26,341.57 L449.72,341.57 L450.18,341.57 L450.63,341.57 L451.09,341.57 L451.55,341.57 L452.00,341.57 L452.46,341.57 L452.91,341.57 L453.37,341.57 L453.83,341.57 L454.28,341.57 L454.74,341.56 L455.20,341.56 L455.65,341.56 L456.11,341.56 L456.57,341.56 L457.02,341.56 L457.48,341.56 L457.94,341.56 L458.39,341.56 L458.85,341.56 L459.31,341.56 L459.76,341.56 L460.22,341.56 L460.68,341.55 L461.13,341.55 L461.59,341.55 L462.04,341.55 L462.50,341.55 L462.96,341.55 L463.41,341.55 L463.87,341.55 L464.33,341.55 L464.78,341.55 L465.24,341.55 L465.70,341.55 L466.15,341.55 L466.61,341.54 L467.07,341.54 L467.52,341.54 L467.98,341.54 L468.44,341.54 L468.89,341.54 L469.35,341.54 L469.81,341.54 L470.26,341.54 L470.72,341.54 L471.17,341.54 L471.63,341.54 L472.09,341.54 L472.54,341.54 L473.00,341.53 L473.46,341.53 L473.91,341.53 L474.37,341.53 L474.83,341.53 L475.28,341.53 L475.74,341.53 L476.20,341.53 L476.65,341.53 L477.11,341.53 L477.57,341.53 L478.02,341.53 L478.48,341.53 L478.94,341.52 L479.39,341.52 L479.85,341.52 L480.31,341.52 L480.76,341.52 L481.22,341.52 L481.67,341.52 L482.13,341.52 L482.59,341.52 L483.04,341.52 L483.50,341.52 L483.96,341.52 L484.41,341.52 L484.87,341.51 L485.33,341.51 L485.78,341.51 L486.24,341.51 L486.70,341.51 L487.15,341.51 L487.61,341.51 L488.07,341.51 L488.52,341.51 L488.98,341.51 L489.44,341.51 L489.89,341.51 L490.35,341.51 L490.80,341.51 L491.26,341.50 L491.72,341.50 L492.17,341.50 L492.63,341.50 L493.09,341.50 L493.54,341.50 L494.00,341.50" fill="none" stroke="#6c14e8" stroke-width="4.3" stroke-linejoin="round"/><path d="M311.40,341.46 L311.86,341.45 L312.31,341.45 L312.77,341.44 L313.23,341.44 L313.68,341.43 L314.14,341.43 L314.60,341.42 L315.05,341.42 L315.51,341.41 L315.96,341.41 L316.42,341.40 L316.88,341.40 L317.33,341.39 L317.79,341.38 L318.25,341.38 L318.70,341.37 L319.16,341.37 L319.62,341.36 L320.07,341.35 L320.53,341.35 L320.99,341.34 L321.44,341.34 L321.90,341.33 L322.36,341.32 L322.81,341.32 L323.27,341.31 L323.73,341.30 L324.18,341.29 L324.64,341.29 L325.09,341.28 L325.55,341.27 L326.01,341.26 L326.46,341.26 L326.92,341.25 L327.38,341.24 L327.83,341.23 L328.29,341.22 L328.75,341.21 L329.20,341.21 L329.66,341.20 L330.12,341.19 L330.57,341.18 L331.03,341.17 L331.49,341.16 L331.94,341.15 L332.40,341.14 L332.86,341.13 L333.31,341.12 L333.77,341.11 L334.22,341.10 L334.68,341.08 L335.14,341.07 L335.59,341.06 L336.05,341.05 L336.51,341.03 L336.96,341.02 L337.42,341.01 L337.88,340.99 L338.33,340.98 L338.79,340.96 L339.25,340.95 L339.70,340.93 L340.16,340.91 L340.62,340.90 L341.07,340.88 L341.53,340.86 L341.99,340.84 L342.44,340.81 L342.90,340.79 L343.35,340.77 L343.81,340.74 L344.27,340.71 L344.72,340.68 L345.18,340.65 L345.64,340.62 L346.09,340.58 L346.55,340.55 L347.01,340.51 L347.46,340.46 L347.92,340.41 L348.38,340.36 L348.83,340.31 L349.29,340.25 L349.75,340.18 L350.20,340.11 L350.66,340.03 L351.12,339.95 L351.57,339.86 L352.03,339.76 L352.49,339.66 L352.94,339.54 L353.40,339.42 L353.85,339.29 L354.31,339.14 L354.77,338.98 L355.22,338.81 L355.68,338.63 L356.14,338.43 L356.59,338.22 L357.05,337.99 L357.51,337.74 L357.96,337.47 L358.42,337.18 L358.88,336.88 L359.33,336.55 L359.79,336.20 L360.25,335.82 L360.70,335.42 L361.16,334.99 L361.62,334.54 L362.07,334.06 L362.53,333.55 L362.98,333.01 L363.44,332.44 L363.90,331.83 L364.35,331.20 L364.81,330.53 L365.27,329.83 L365.72,329.10 L366.18,328.33 L366.64,327.53 L367.09,326.70 L367.55,325.83 L368.01,324.93 L368.46,323.99 L368.92,323.03 L369.38,322.03 L369.83,321.00 L370.29,319.94 L370.75,318.86 L371.20,317.74 L371.66,316.61 L372.11,315.44 L372.57,314.26 L373.03,313.06 L373.48,311.85 L373.94,310.61 L374.40,309.37 L374.85,308.12 L375.31,306.87 L375.77,305.61 L376.22,304.35 L376.68,303.10 L377.14,301.85 L377.59,300.62 L378.05,299.40 L378.51,298.19 L378.96,297.01 L379.42,295.86 L379.88,294.73 L380.33,293.64 L380.79,292.59 L381.24,291.57 L381.70,290.60 L382.16,289.67 L382.61,288.80 L383.07,287.97 L383.53,287.21 L383.98,286.50 L384.44,285.85 L384.90,285.27 L385.35,284.75 L385.81,284.30 L386.27,283.92 L386.72,283.60 L387.18,283.36 L387.64,283.18 L388.09,283.06 L388.55,283.01 L388.72,283.01 L389.00,283.12 L389.46,283.56 L389.92,284.23 L390.37,285.07 L390.83,286.07 L391.29,287.20 L391.74,288.44 L392.20,289.78 L392.66,291.20 L393.11,292.68 L393.57,294.23 L394.03,295.82 L394.48,297.45 L394.94,299.09 L395.40,300.76 L395.85,302.43 L396.31,304.10 L396.77,305.76 L397.22,307.41 L397.68,309.04 L398.13,310.64 L398.59,312.21 L399.05,313.74 L399.50,315.24 L399.96,316.70 L400.42,318.11 L400.87,319.47 L401.33,320.79 L401.79,322.06 L402.24,323.27 L402.70,324.44 L403.16,325.55 L403.61,326.62 L404.07,327.63 L404.53,328.59 L404.98,329.50 L405.44,330.37 L405.90,331.19 L406.35,331.96 L406.81,332.68 L407.26,333.36 L407.72,334.00 L408.18,334.60 L408.63,335.16 L409.09,335.68 L409.55,336.17 L410.00,336.62 L410.46,337.05 L410.92,337.44 L411.37,337.80 L411.83,338.13 L412.29,338.44 L412.74,338.73 L413.20,338.99 L413.66,339.23 L414.11,339.46 L414.57,339.66 L415.03,339.85 L415.48,340.02 L415.94,340.17 L416.39,340.31 L416.85,340.44 L417.31,340.56 L417.76,340.67 L418.22,340.77 L418.68,340.85 L419.13,340.93 L419.59,341.00 L420.05,341.07 L420.50,341.13 L420.96,341.18 L421.42,341.23 L421.87,341.27 L422.33,341.31 L422.79,341.34 L423.24,341.37 L423.70,341.40 L424.16,341.42 L424.61,341.44 L425.07,341.46 L425.52,341.48 L425.98,341.49 L426.44,341.51 L426.89,341.52 L427.35,341.53 L427.81,341.54 L428.26,341.55 L428.72,341.55 L429.18,341.56 L429.63,341.56 L430.09,341.57 L430.55,341.57 L431.00,341.58 L431.46,341.58 L431.92,341.58 L432.37,341.58 L432.83,341.58 L433.29,341.59 L433.74,341.59 L434.20,341.59 L434.65,341.59 L435.11,341.59 L435.57,341.59 L436.02,341.59 L436.48,341.59 L436.94,341.59 L437.39,341.59 L437.85,341.59 L438.31,341.59 L438.76,341.59 L439.22,341.59 L439.68,341.59 L440.13,341.59 L440.59,341.59 L441.05,341.59 L441.50,341.59 L441.96,341.58 L442.42,341.58 L442.87,341.58 L443.33,341.58 L443.78,341.58 L444.24,341.58 L444.70,341.58 L445.15,341.58 L445.61,341.58 L446.07,341.58 L446.52,341.58 L446.98,341.58 L447.44,341.58 L447.89,341.58 L448.35,341.57 L448.81,341.57 L449.26,341.57 L449.72,341.57 L450.18,341.57 L450.63,341.57 L451.09,341.57 L451.55,341.57 L452.00,341.57 L452.46,341.57 L452.91,341.57 L453.37,341.57 L453.83,341.57 L454.28,341.57 L454.74,341.56 L455.20,341.56 L455.65,341.56 L456.11,341.56 L456.57,341.56 L457.02,341.56 L457.48,341.56 L457.94,341.56 L458.39,341.56 L458.85,341.56 L459.31,341.56 L459.76,341.56 L460.22,341.56 L460.68,341.55 L461.13,341.55 L461.59,341.55 L462.04,341.55 L462.50,341.55 L462.96,341.55 L463.41,341.55 L463.87,341.55 L464.33,341.55 L464.78,341.55 L465.24,341.55 L465.70,341.55 L466.15,341.55 L466.61,341.54 L467.07,341.54 L467.52,341.54 L467.98,341.54 L468.44,341.54 L468.89,341.54 L469.35,341.54 L469.81,341.54 L470.26,341.54 L470.72,341.54 L471.17,341.54 L471.63,341.54 L472.09,341.54 L472.54,341.54 L473.00,341.53 L473.46,341.53 L473.91,341.53 L474.37,341.53 L474.83,341.53 L475.28,341.53 L475.74,341.53 L476.20,341.53 L476.65,341.53 L477.11,341.53 L477.57,341.53 L478.02,341.53 L478.48,341.53 L478.94,341.52 L479.39,341.52 L479.85,341.52 L480.31,341.52 L480.76,341.52 L481.22,341.52 L481.67,341.52 L482.13,341.52 L482.59,341.52 L483.04,341.52 L483.50,341.52 L483.96,341.52 L484.41,341.52 L484.87,341.51 L485.33,341.51 L485.78,341.51 L486.24,341.51 L486.70,341.51 L487.15,341.51 L487.61,341.51 L488.07,341.51 L488.52,341.51 L488.98,341.51 L489.44,341.51 L489.89,341.51 L490.35,341.51 L490.80,341.51 L491.26,341.50 L491.72,341.50 L492.17,341.50 L492.63,341.50 L493.09,341.50 L493.54,341.50 L494.00,341.50" fill="none" stroke="#e4121c" stroke-width="4.3" stroke-linejoin="round"/><line x1="382" y1="252.9" x2="393.7" y2="252.9" stroke="#1414d2" stroke-width="1.8"/><polygon points="385.8,252.9 382,250.8 382,255.0" fill="#1414d2"/><polygon points="388.7,252.9 393.7,250.8 393.7,255.0" fill="#1414d2"/><line x1="385.8" y1="248.2" x2="385.8" y2="350" stroke="#6c14e8" stroke-width="2.4" stroke-dasharray="8.2 7.35"/><line x1="388.7" y1="248.2" x2="388.7" y2="350" stroke="#e4121c" stroke-width="2.4" stroke-dasharray="8.2 7.35"/><text transform="translate(397.70,258.24) scale(1,1.07)" style="font-family:'Liberation Sans',Arial,sans-serif;font-weight:bold;font-size:13px" fill="#1414d2" stroke="#1414d2" stroke-width="0.35" stroke-linejoin="round">Δ=0.04°</text><line x1="386.5" y1="280.5" x2="367" y2="280.5" stroke="#6c14e8" stroke-width="2"/><polygon points="359,280.5 369.2,277.4 368.4,280.5 369.2,283.6" fill="#6c14e8"/><text transform="translate(321.40,285.71) scale(1,1.07)" style="font-family:'Liberation Sans',Arial,sans-serif;font-weight:bold;font-size:12.3px" fill="#6c14e8" stroke="#6c14e8" stroke-width="0.35" stroke-linejoin="round">63.68°</text><line x1="388.5" y1="279.9" x2="405.1" y2="279.9" stroke="#e4121c" stroke-width="2"/><polygon points="413.1,279.9 402.90000000000003,276.79999999999995 403.70000000000005,279.9 402.90000000000003,283.0" fill="#e4121c"/><text transform="translate(415.70,285.81) scale(1,1.07)" style="font-family:'Liberation Sans',Arial,sans-serif;font-weight:bold;font-size:12.3px" fill="#e4121c" stroke="#e4121c" stroke-width="0.35" stroke-linejoin="round">63.72°</text><line x1="429.2" y1="306" x2="455.6" y2="306" stroke="#6c14e8" stroke-width="4"/><line x1="429.2" y1="324.8" x2="455.6" y2="324.8" stroke="#e4121c" stroke-width="4"/><text transform="translate(459.60,310.44) scale(1,1.07)" style="font-family:'Liberation Sans',Arial,sans-serif;font-weight:bold;font-size:11.5px" fill="#6c14e8" stroke="#6c14e8" stroke-width="0.35" stroke-linejoin="round">as-grown</text><text transform="translate(459.60,329.06) scale(1,1.07)" style="font-family:'Liberation Sans',Arial,sans-serif;font-weight:bold;font-size:11.5px" fill="#e4121c" stroke="#e4121c" stroke-width="0.35" stroke-linejoin="round">annealed</text></svg></body></html>
